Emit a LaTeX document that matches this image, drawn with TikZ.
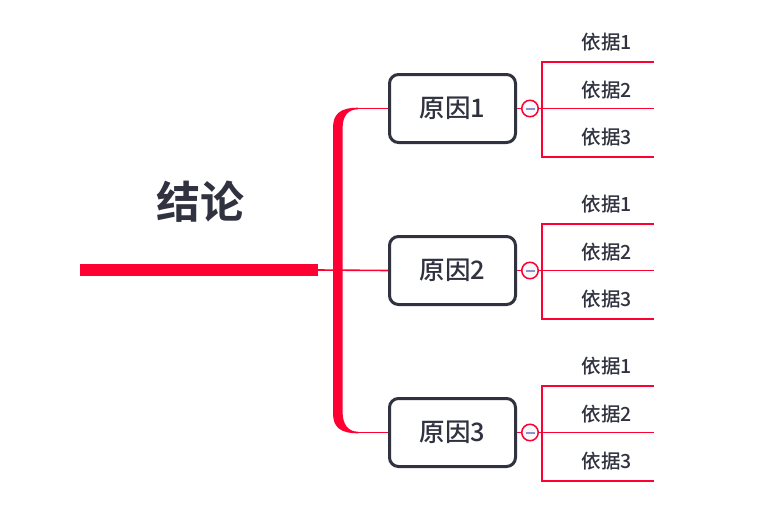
\documentclass[tikz,border=0pt]{standalone}
\usepackage{fontspec}
\newfontfamily\cjk{Noto Sans CJK SC Medium}
\newfontfamily\cjkb{Noto Sans CJK SC Bold}
\definecolor{mred}{HTML}{FF0033}
\definecolor{mtext}{HTML}{30323F}
\definecolor{mminus}{HTML}{8C93C8}
\begin{document}
\begin{tikzpicture}[x=1pt,y=-1pt,
  reason/.style={draw=mtext,line width=3pt,rounded corners=9pt,minimum width=126pt,minimum height=68pt,fill=white,text=mtext,font=\cjk\fontsize{25.5}{30}\selectfont,inner sep=0pt},
  fold/.style={circle,draw=mred,line width=1.5pt,fill=white!94!mminus,minimum size=16.5pt,inner sep=0pt},
  evid/.style={text=mtext,font=\cjk\fontsize{19.5}{23}\selectfont,inner sep=0pt},
  thin/.style={draw=mred,line width=1.6pt}]
\useasboundingbox (0,0) rectangle (761,514);
% conclusion
\node[text=mtext,font=\cjkb\fontsize{44}{50}\selectfont,inner sep=0pt] (concl) at (200,202) {结论};
\coordinate (m0) at (80,270);
\coordinate (m1) at (318,270);
\draw[mred,line width=11.5pt] (m0) -- (m1);
% vertical spine with rounded ends
\fill[mred] (333,270) -- (333,128) .. controls (333,114) and (340,107.7) .. (358,107.7)
  -- (358,109.3) .. controls (348,109.3) and (342.6,116) .. (342.6,128) -- (342.6,412)
  .. controls (342.6,424) and (348,431.7) .. (358,431.7) -- (358,433.3)
  .. controls (340,433.3) and (333,427) .. (333,413) -- cycle;
\coordinate (t1) at (357,108.5);
\coordinate (t3) at (357,432.5);
% groups
\foreach \i/\y in {1/108.5,2/270.5,3/432.5}{
  \node[reason] (b\i) at (452.5,\y) {原因\i};
  \node[fold] (c\i) at (530,\y) {};
  \draw[mminus,line width=2pt] ([xshift=-4.5pt]c\i.center) -- ([xshift=4.5pt]c\i.center);
  \coordinate (j\i) at (542,\y);
  \coordinate (u\i) at (542,\y-46.5);
  \coordinate (d\i) at (542,\y+48.5);
  \coordinate (ue\i) at (654,\y-46.5);
  \coordinate (me\i) at (654,\y);
  \coordinate (de\i) at (654,\y+48.5);
  \draw[thin] (b\i.east) -- (c\i.west);
  \draw[thin] (c\i.east) -- (j\i);
  \draw[thin] (ue\i) -- (u\i) -- (d\i) -- (de\i);
  \draw[thin] (j\i) -- (me\i);
  \node[evid] (e\i a) at (607,\y-66.5) {依据1};
  \node[evid] (e\i b) at (607,\y-18.5) {依据2};
  \node[evid] (e\i c) at (607,\y+28.5) {依据3};
}
\draw[thin] (m1) -- (b2.west);
\draw[thin] (t1) -- (b1.west);
\draw[thin] (t3) -- (b3.west);
\end{tikzpicture}
\end{document}
